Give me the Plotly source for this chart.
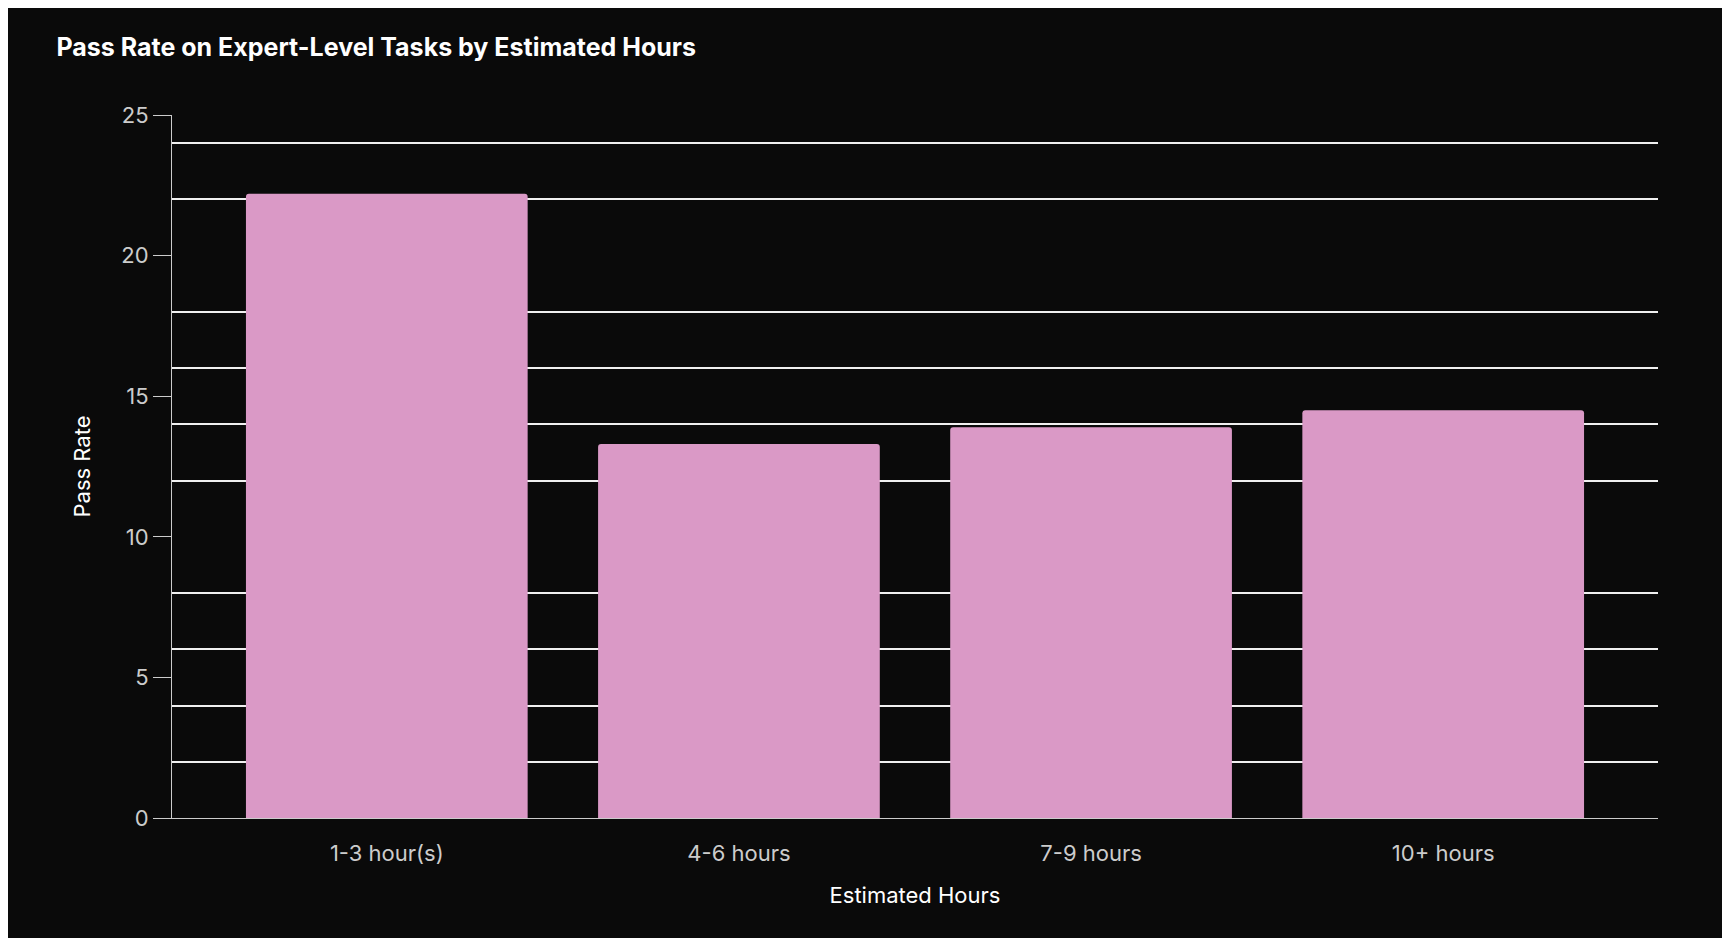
import plotly.graph_objects as go

categories = ["1-3 hour(s)", "4-6 hours", "7-9 hours", "10+ hours"]
pass_rate = [22.2, 13.3, 13.9, 14.5]

fig = go.Figure(go.Bar(x=categories, y=pass_rate, marker=dict(color="#DA99C6", line=dict(width=0), cornerradius=3)))
fig.update_layout(
    width=1730, height=938, paper_bgcolor="#0a0a0a", plot_bgcolor="#0a0a0a",
    margin=dict(l=164, r=80, t=107, b=128), bargap=0.2,
    font=dict(family="Inter", color="#e6e6e6", size=22),
    title=dict(text="<b>Pass Rate on Expert-Level Tasks by Estimated Hours</b>", x=0.028, xanchor="left",
               y=0.958, yanchor="middle", font=dict(size=25, color="white")),
    showlegend=False,
)
fig.update_yaxes(range=[0, 25], dtick=5, tick0=0, showgrid=False, showline=True, linecolor="#cccccc",
                 ticks="outside", ticklen=18, tickcolor="#cccccc", zeroline=False,
                 tickfont=dict(color="#cccccc"),
                 minor=dict(dtick=2, tick0=0, showgrid=True, gridcolor="#f0f0f0", gridwidth=1.5),
                 title=dict(text="Pass Rate", font=dict(size=22, color="white"), standoff=24))
fig.update_xaxes(range=[-0.61, 3.61], showline=True, linecolor="#cccccc", showgrid=False, ticks="",
                 ticklabelstandoff=16, tickfont=dict(color="#cccccc"),
                 title=dict(text="Estimated Hours", font=dict(size=22, color="white"), standoff=22))
fig.write_html("out.html")
